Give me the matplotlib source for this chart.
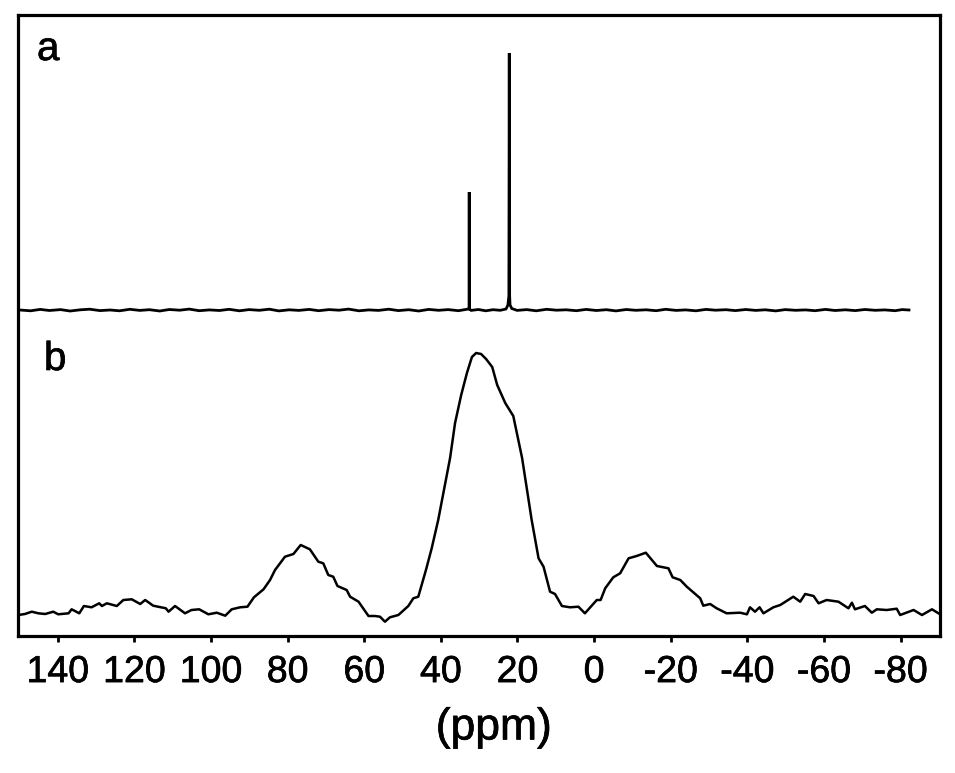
import matplotlib
matplotlib.use('Agg')
import matplotlib.pyplot as plt
import matplotlib.patheffects as pe

plt.rcParams['font.family'] = ['Liberation Sans', 'DejaVu Sans']

# 上の細いピークのスペクトル (a)
ppm_a = [149.9, 147.1, 144.6, 142.2, 139.3, 136.8, 134.1, 131.7, 129.0, 126.4, 123.9, 121.2, 118.6, 116.1, 113.4,
         110.9, 108.2, 105.7, 103.1, 100.4, 97.8, 95.3, 92.6, 90.1, 87.4, 84.8, 82.3, 79.6, 77.1, 74.4,
         71.9, 69.2, 66.6, 64.1, 61.4, 58.8, 56.3, 53.6, 51.1, 48.4, 45.8, 43.2, 40.6, 38.1, 35.4,
         33.1, 32.65, 32.6, 32.55, 32.1, 30.2, 28.3, 26.4, 24.5, 23.0, 22.5, 22.25, 22.15, 22.05, 21.95, 21.5,
         20.1, 17.6, 15.1, 12.4, 9.8, 7.3, 4.6, 2.1, -0.6, -3.2, -5.7, -8.4, -10.9, -13.6, -16.2, -18.7,
         -21.4, -23.9, -26.6, -29.2, -31.7, -34.4, -36.9, -39.6, -42.2, -44.7, -47.4, -49.9, -52.6, -55.2,
         -57.7, -60.4, -62.9, -65.6, -68.2, -70.7, -73.4, -75.9, -78.6, -80.4, -82.2]
int_a = [326, 325.2, 326.6, 325.5, 326.4, 325, 326.2, 326.8, 325.4, 326, 325.2, 326.7, 325.6, 326.3, 325,
         326.5, 325.8, 326.9, 325.3, 326.1, 325.5, 326.7, 325.2, 326.4, 325.7, 326.8, 325.1, 326.2, 325.6, 326.6,
         325.3, 326.4, 325.8, 326.9, 325.2, 326.1, 325.6, 326.8, 325.4, 326.3, 325, 326.6, 325.7, 326.4, 325.3,
         326.8, 327, 444, 327, 325.6, 326.5, 325.2, 326.3, 325.7, 327, 331, 340, 583, 340, 331, 327.5,
         325.6, 326.4, 325.2, 326.7, 325.8, 326.2, 325.3, 326.6, 325.5, 326.3, 325.1, 326.5, 325.7, 326.2, 325.3,
         326.7, 325.6, 326.1, 325.2, 326.6, 325.8, 326.3, 325.4, 326.5, 325.6, 326.2, 325.1, 326.4, 325.7, 326.1,
         325.3, 326.6, 325.5, 326.2, 325.4, 326.5, 325.7, 326.1, 325.3, 326.4, 326]

# 下のブロードなスペクトル (b)
ppm_b = [150.3, 148.6, 146.8, 145.1, 143.3, 141.2, 139.9, 137.2, 136.4, 134.4, 133.2, 131.2, 129.2, 128.5, 127.2,
         124.6, 122.9, 120.7, 118.5, 117.2, 115.1, 111.8, 111.1, 109.4, 106.8, 105.1, 103.1, 100.7, 98.5, 96.3,
         94.6, 92.4, 90.5, 88.8, 86.3, 84.6, 83.3, 80.7, 78.5, 76.6, 74.2, 72.0, 70.7, 69.4, 68.1, 67.0, 64.6,
         63.7, 61.5, 58.9, 57.2, 55.9, 54.6, 53.3, 51.1, 48.5, 47.2, 45.9, 43.9, 42.4, 40.7,
         39.2, 37.6, 36.3, 34.7, 33.2, 31.9, 30.8, 29.5, 28.2, 26.6, 25.3, 23.2, 21.1, 18.8, 17.5,
         16.3, 14.5, 13.2, 11.5, 10.2, 8.4, 6.3, 4.1, 2.4, -0.7, -1.7, -2.9, -5.0, -6.8, -9.0, -11.1, -13.5,
         -16.4, -19.4, -20.5, -22.5, -24.2, -27.7, -28.5, -30.3, -32.0, -34.6, -38.1, -39.9, -40.7, -42.0,
         -43.2, -44.2, -46.8, -48.6, -52.0, -53.8, -55.1, -57.3, -58.6, -60.7, -63.8, -66.4, -67.3, -68.1,
         -70.7, -72.5, -73.8, -76.4, -79.0, -79.9, -83.4, -85.6, -88.2, -89.9]
int_b = [21, 22, 24.3, 22.7, 22, 24.3, 21.7, 22.7, 26.7, 22.7, 30, 28.7, 32.7, 30, 32.7,
         30, 36, 36.7, 32, 36, 30.3, 27.7, 24.3, 30, 22.7, 26, 26.7, 21.7, 23.3, 20.3,
         26.7, 28.7, 29.3, 38.7, 46.7, 56, 66, 79.3, 82, 91, 86.7, 74.3, 72.7, 61, 59.3, 50, 46,
         39.3, 34.3, 20, 20, 19.3, 14.3, 18.7, 21, 30, 37.7, 39.3, 66, 87.7, 116,
         146, 178, 213, 241, 263, 279, 283, 282, 277, 269, 251, 233, 220, 178, 146,
         116, 77.7, 69.3, 44.3, 42, 30, 28.7, 29.3, 22.7, 36, 36, 47.7, 58.7, 62.7, 77.7, 80, 83.3,
         70, 67.7, 58.7, 56, 49.3, 37.7, 30.3, 32, 27.7, 22.7, 23.3, 21.7, 28.7, 24.3,
         28.7, 22.7, 28.7, 31, 39.3, 34.3, 42, 40, 32.7, 36, 34.3, 27.7, 33.3, 26.7,
         30, 23.3, 26.7, 26, 27.3, 21, 26, 21, 26.7, 22.7]

tick_ppm = [140, 120, 100, 80, 60, 40, 20, 0, -20, -40, -60, -80]
tick_labels = ['140', '120', '100', '80', '60', '40', '20', '0', '-20', '-40', '-60', '-80']

W, H = 955, 773
fig = plt.figure(figsize=(W / 100, H / 100), dpi=100)
ax = fig.add_axes([18 / W, (H - 636) / H, 922 / W, 621 / H])

ax.plot(ppm_a, int_a, color='black', lw=2.0, solid_joinstyle='miter')
ax.plot(ppm_b, int_b, color='black', lw=1.8)

ax.set_xlim(150.4, -90.3)
ax.set_ylim(0, 621)
ax.set_yticks([])
ax.set_xticks(tick_ppm)
ax.set_xticklabels(tick_labels)
ax.tick_params(axis='x', direction='out', length=4, width=2, labelsize=27, pad=9)
for s in ax.spines.values():
    s.set_linewidth(2.3)

# 少し太く見えるように文字に細い縁取り
bold = [pe.withStroke(linewidth=0.5, foreground='black')]
for lab in ax.get_xticklabels():
    lab.set_path_effects(bold)

ax.set_xlabel('(ppm)', fontsize=32, path_effects=bold)
ax.xaxis.set_label_coords(0.516, -0.115)

ax.text(37 / W, (H - 60) / H, 'a', transform=fig.transFigure, fontsize=29, color='black', path_effects=bold)
ax.text(44 / W, (H - 370) / H, 'b', transform=fig.transFigure, fontsize=29, color='black', path_effects=bold)

fig.savefig('out.png', dpi=100)
